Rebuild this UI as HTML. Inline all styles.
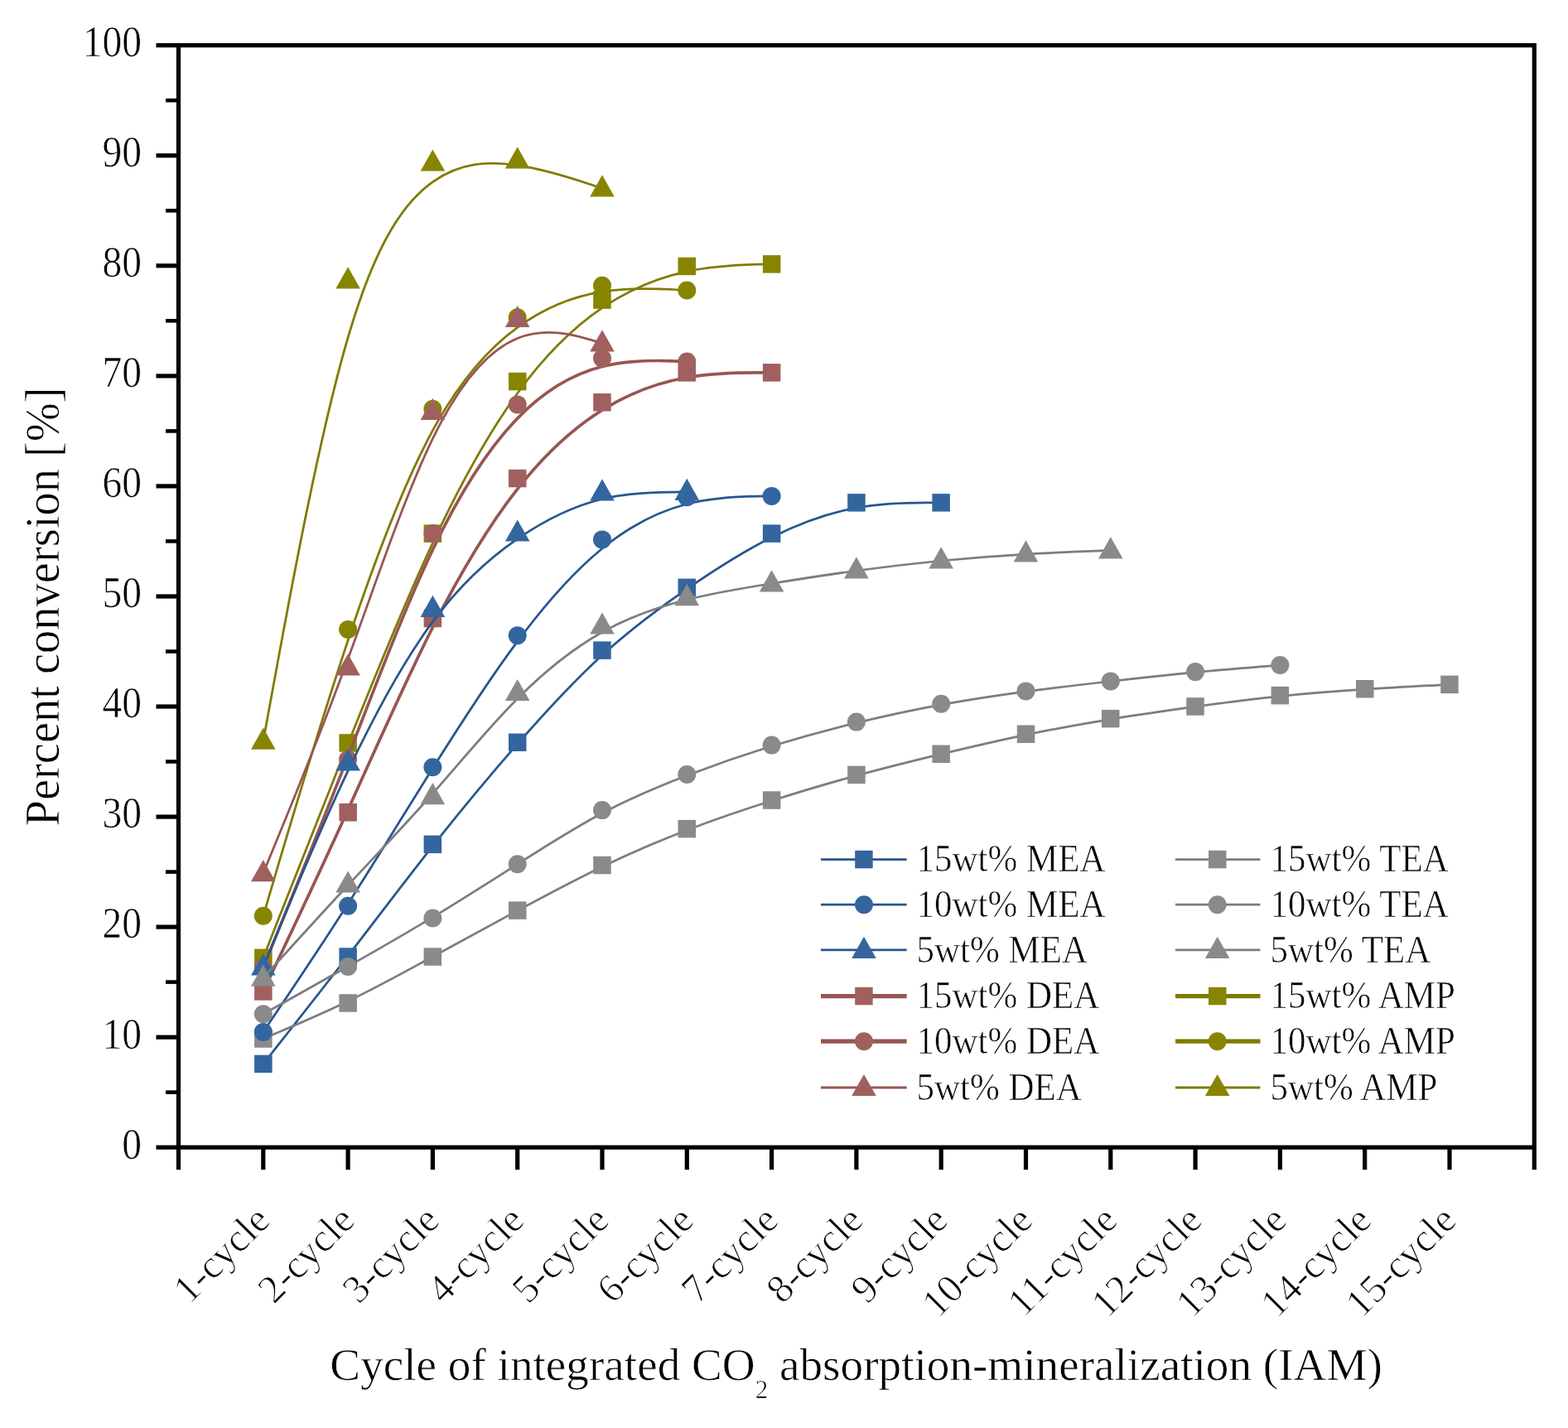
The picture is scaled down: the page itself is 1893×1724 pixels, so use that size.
<!DOCTYPE html>
<html><head><meta charset="utf-8"><title>Percent conversion vs IAM cycle</title><style>
html,body{margin:0;padding:0;background:#fff;}
svg{display:block;}
text{font-family:"Liberation Serif","Times New Roman",serif;fill:#000;stroke:#fff;stroke-width:0.6px;}
</style></head><body>
<svg width="1893" height="1724" viewBox="0 0 1893 1724">
<rect width="1893" height="1724" fill="#fff"/>
<g id="series">
<path d="M317.8,1284.5 C317.8,1284.5 317.8,1284.5 334.8,1262.9 C351.9,1241.3 386.0,1198.2 420.1,1154.0 C454.2,1109.8 488.3,1064.5 522.4,1021.4 C556.5,978.3 590.6,937.3 624.7,898.2 C658.8,859.2 692.9,822.2 727.0,791.0 C761.1,759.9 795.2,734.6 829.3,711.1 C863.4,687.6 897.5,665.8 931.6,648.8 C965.7,631.7 999.8,619.3 1033.9,613.1 C1068.0,606.9 1102.1,606.9 1119.1,606.9 C1136.2,606.9 1136.2,606.9 1136.2,606.9" fill="none" stroke="#27568f" stroke-width="2.75"/>
<rect x="307.1" y="1273.7" width="21.5" height="21.5" fill="#33659f"/>
<rect x="409.4" y="1144.3" width="21.5" height="21.5" fill="#33659f"/>
<rect x="511.6" y="1008.6" width="21.5" height="21.5" fill="#33659f"/>
<rect x="614.0" y="885.5" width="21.5" height="21.5" fill="#33659f"/>
<rect x="716.2" y="774.4" width="21.5" height="21.5" fill="#33659f"/>
<rect x="818.5" y="698.6" width="21.5" height="21.5" fill="#33659f"/>
<rect x="920.9" y="633.4" width="21.5" height="21.5" fill="#33659f"/>
<rect x="1023.2" y="596.1" width="21.5" height="21.5" fill="#33659f"/>
<rect x="1125.4" y="596.1" width="21.5" height="21.5" fill="#33659f"/>
<path d="M317.8,1196.9 C317.8,1196.9 317.8,1196.9 334.8,1160.9 C351.9,1124.9 386.0,1052.8 420.1,977.7 C454.2,902.7 488.3,824.6 522.4,757.4 C556.5,690.2 590.6,633.9 624.7,590.4 C658.8,547.0 692.9,516.4 727.0,495.1 C761.1,473.8 795.2,461.8 829.3,455.8 C863.4,449.9 897.5,449.9 914.6,449.9 C931.6,449.9 931.6,449.9 931.6,449.9" fill="none" stroke="#985552" stroke-width="3.7"/>
<rect x="307.1" y="1186.2" width="21.5" height="21.5" fill="#a0605f"/>
<rect x="409.4" y="970.0" width="21.5" height="21.5" fill="#a0605f"/>
<rect x="511.6" y="735.8" width="21.5" height="21.5" fill="#a0605f"/>
<rect x="614.0" y="566.8" width="21.5" height="21.5" fill="#a0605f"/>
<rect x="716.2" y="475.0" width="21.5" height="21.5" fill="#a0605f"/>
<rect x="818.5" y="439.1" width="21.5" height="21.5" fill="#a0605f"/>
<rect x="920.9" y="439.1" width="21.5" height="21.5" fill="#a0605f"/>
<path d="M317.8,1254.0 C317.8,1254.0 317.8,1254.0 334.8,1246.8 C351.9,1239.6 386.0,1225.3 420.1,1208.8 C454.2,1192.3 488.3,1173.7 522.4,1155.0 C556.5,1136.4 590.6,1117.8 624.7,1099.4 C658.8,1081.0 692.9,1062.8 727.0,1046.4 C761.1,1030.0 795.2,1015.3 829.3,1002.2 C863.4,989.2 897.5,977.6 931.6,966.8 C965.7,955.9 999.8,945.7 1033.9,936.4 C1068.0,927.1 1102.1,918.6 1136.2,910.4 C1170.3,902.2 1204.4,894.2 1238.5,887.1 C1272.6,880.1 1306.7,873.8 1340.8,868.3 C1374.9,862.8 1409.0,857.9 1443.1,853.2 C1477.2,848.6 1511.3,844.1 1545.4,840.6 C1579.5,837.0 1613.6,834.4 1647.7,832.2 C1681.8,829.9 1715.9,828.2 1733.0,827.3 C1750.0,826.4 1750.0,826.4 1750.0,826.4" fill="none" stroke="#7c7c82" stroke-width="2.75"/>
<rect x="307.1" y="1243.3" width="21.5" height="21.5" fill="#8a8a8a"/>
<rect x="409.4" y="1200.2" width="21.5" height="21.5" fill="#8a8a8a"/>
<rect x="511.6" y="1144.3" width="21.5" height="21.5" fill="#8a8a8a"/>
<rect x="614.0" y="1088.4" width="21.5" height="21.5" fill="#8a8a8a"/>
<rect x="716.2" y="1033.8" width="21.5" height="21.5" fill="#8a8a8a"/>
<rect x="818.5" y="989.9" width="21.5" height="21.5" fill="#8a8a8a"/>
<rect x="920.9" y="955.3" width="21.5" height="21.5" fill="#8a8a8a"/>
<rect x="1023.2" y="924.7" width="21.5" height="21.5" fill="#8a8a8a"/>
<rect x="1125.4" y="899.5" width="21.5" height="21.5" fill="#8a8a8a"/>
<rect x="1227.8" y="875.5" width="21.5" height="21.5" fill="#8a8a8a"/>
<rect x="1330.0" y="856.9" width="21.5" height="21.5" fill="#8a8a8a"/>
<rect x="1432.3" y="842.2" width="21.5" height="21.5" fill="#8a8a8a"/>
<rect x="1534.6" y="828.9" width="21.5" height="21.5" fill="#8a8a8a"/>
<rect x="1637.0" y="821.0" width="21.5" height="21.5" fill="#8a8a8a"/>
<rect x="1739.2" y="815.6" width="21.5" height="21.5" fill="#8a8a8a"/>
<path d="M317.8,1156.4 C317.8,1156.4 317.8,1156.4 334.8,1113.1 C351.9,1069.9 386.0,983.4 420.1,898.0 C454.2,812.6 488.3,728.4 522.4,655.6 C556.5,582.9 590.6,521.7 624.7,474.7 C658.8,427.7 692.9,394.9 727.0,371.7 C761.1,348.5 795.2,335.0 829.3,327.8 C863.4,320.6 897.5,319.7 914.6,319.2 C931.6,318.8 931.6,318.8 931.6,318.8" fill="none" stroke="#7f7b00" stroke-width="2.75"/>
<rect x="307.1" y="1145.6" width="21.5" height="21.5" fill="#878500"/>
<rect x="409.4" y="886.2" width="21.5" height="21.5" fill="#878500"/>
<rect x="511.6" y="633.4" width="21.5" height="21.5" fill="#878500"/>
<rect x="614.0" y="449.8" width="21.5" height="21.5" fill="#878500"/>
<rect x="716.2" y="351.3" width="21.5" height="21.5" fill="#878500"/>
<rect x="818.5" y="310.7" width="21.5" height="21.5" fill="#878500"/>
<rect x="920.9" y="308.1" width="21.5" height="21.5" fill="#878500"/>
<path d="M317.8,1245.9 C317.8,1245.9 317.8,1245.9 334.8,1220.6 C351.9,1195.2 386.0,1144.5 420.1,1091.2 C454.2,1037.9 488.3,982.1 522.4,927.6 C556.5,873.2 590.6,820.2 624.7,774.4 C658.8,728.6 692.9,690.0 727.0,662.2 C761.1,634.4 795.2,617.3 829.3,608.5 C863.4,599.8 897.5,599.3 914.6,599.1 C931.6,598.9 931.6,598.9 931.6,598.9" fill="none" stroke="#27568f" stroke-width="2.75"/>
<circle cx="317.8" cy="1245.9" r="11.0" fill="#33659f"/>
<circle cx="420.1" cy="1093.8" r="11.0" fill="#33659f"/>
<circle cx="522.4" cy="926.2" r="11.0" fill="#33659f"/>
<circle cx="624.7" cy="767.2" r="11.0" fill="#33659f"/>
<circle cx="727.0" cy="651.4" r="11.0" fill="#33659f"/>
<circle cx="829.3" cy="600.2" r="11.0" fill="#33659f"/>
<circle cx="931.6" cy="598.9" r="11.0" fill="#33659f"/>
<path d="M317.8,1168.3 C317.8,1168.3 317.8,1168.3 334.8,1126.4 C351.9,1084.5 386.0,1000.7 420.1,913.3 C454.2,825.9 488.3,735.0 522.4,663.6 C556.5,592.2 590.6,540.3 624.7,505.1 C658.8,469.8 692.9,451.2 727.0,442.5 C761.1,433.9 795.2,435.2 812.2,435.9 C829.3,436.6 829.3,436.6 829.3,436.6" fill="none" stroke="#985552" stroke-width="3.7"/>
<circle cx="317.8" cy="1168.3" r="11.0" fill="#a0605f"/>
<circle cx="420.1" cy="916.9" r="11.0" fill="#a0605f"/>
<circle cx="522.4" cy="644.1" r="11.0" fill="#a0605f"/>
<circle cx="624.7" cy="488.4" r="11.0" fill="#a0605f"/>
<circle cx="727.0" cy="432.6" r="11.0" fill="#a0605f"/>
<circle cx="829.3" cy="436.6" r="11.0" fill="#a0605f"/>
<path d="M317.8,1224.2 C317.8,1224.2 317.8,1224.2 334.8,1214.7 C351.9,1205.1 386.0,1186.1 420.1,1166.8 C454.2,1147.5 488.3,1128.0 522.4,1107.3 C556.5,1086.7 590.6,1065.0 624.7,1043.3 C658.8,1021.5 692.9,999.8 727.0,981.7 C761.1,963.7 795.2,949.3 829.3,936.2 C863.4,923.2 897.5,911.4 931.6,900.8 C965.7,890.3 999.8,880.9 1033.9,872.6 C1068.0,864.3 1102.1,857.0 1136.2,850.8 C1170.3,844.6 1204.4,839.5 1238.5,834.9 C1272.6,830.4 1306.7,826.4 1340.8,822.5 C1374.9,818.6 1409.0,814.9 1443.1,811.6 C1477.2,808.4 1511.3,805.7 1528.3,804.3 C1545.4,803.0 1545.4,803.0 1545.4,803.0" fill="none" stroke="#7c7c82" stroke-width="2.75"/>
<circle cx="317.8" cy="1224.2" r="11.0" fill="#8a8a8a"/>
<circle cx="420.1" cy="1167.0" r="11.0" fill="#8a8a8a"/>
<circle cx="522.4" cy="1108.5" r="11.0" fill="#8a8a8a"/>
<circle cx="624.7" cy="1043.3" r="11.0" fill="#8a8a8a"/>
<circle cx="727.0" cy="978.1" r="11.0" fill="#8a8a8a"/>
<circle cx="829.3" cy="935.0" r="11.0" fill="#8a8a8a"/>
<circle cx="931.6" cy="899.6" r="11.0" fill="#8a8a8a"/>
<circle cx="1033.9" cy="871.6" r="11.0" fill="#8a8a8a"/>
<circle cx="1136.2" cy="849.7" r="11.0" fill="#8a8a8a"/>
<circle cx="1238.5" cy="834.4" r="11.0" fill="#8a8a8a"/>
<circle cx="1340.8" cy="822.4" r="11.0" fill="#8a8a8a"/>
<circle cx="1443.1" cy="811.1" r="11.0" fill="#8a8a8a"/>
<circle cx="1545.4" cy="803.0" r="11.0" fill="#8a8a8a"/>
<path d="M317.8,1105.8 C317.8,1105.8 317.8,1105.8 334.8,1048.1 C351.9,990.5 386.0,875.2 420.1,773.2 C454.2,671.2 488.3,582.5 522.4,519.7 C556.5,457.0 590.6,420.1 624.7,395.3 C658.8,370.5 692.9,357.6 727.0,352.1 C761.1,346.7 795.2,348.6 812.2,349.5 C829.3,350.5 829.3,350.5 829.3,350.5" fill="none" stroke="#7f7b00" stroke-width="2.75"/>
<circle cx="317.8" cy="1105.8" r="11.0" fill="#878500"/>
<circle cx="420.1" cy="759.9" r="11.0" fill="#878500"/>
<circle cx="522.4" cy="493.8" r="11.0" fill="#878500"/>
<circle cx="624.7" cy="383.3" r="11.0" fill="#878500"/>
<circle cx="727.0" cy="344.7" r="11.0" fill="#878500"/>
<circle cx="829.3" cy="350.5" r="11.0" fill="#878500"/>
<path d="M317.8,1167.3 C317.8,1167.3 317.8,1167.3 334.8,1126.2 C351.9,1085.1 386.0,1002.8 420.1,930.7 C454.2,858.7 488.3,796.8 522.4,750.6 C556.5,704.5 590.6,674.0 624.7,650.6 C658.8,627.2 692.9,610.8 727.0,602.5 C761.1,594.2 795.2,594.1 812.2,594.0 C829.3,593.9 829.3,593.9 829.3,593.9" fill="none" stroke="#27568f" stroke-width="2.75"/>
<polygon points="317.8,1151.2 332.6,1177.4 303.0,1177.4" fill="#33659f"/>
<polygon points="420.1,904.4 434.9,930.6 405.3,930.6" fill="#33659f"/>
<polygon points="522.4,718.8 537.2,745.0 507.6,745.0" fill="#33659f"/>
<polygon points="624.7,627.4 639.5,653.6 609.9,653.6" fill="#33659f"/>
<polygon points="727.0,578.3 741.8,604.5 712.2,604.5" fill="#33659f"/>
<polygon points="829.3,577.8 844.1,604.0 814.5,604.0" fill="#33659f"/>
<path d="M317.8,1054.2 C317.8,1054.2 317.8,1054.2 334.8,1012.8 C351.9,971.3 386.0,888.4 420.1,795.5 C454.2,702.5 488.3,599.7 522.4,529.6 C556.5,459.5 590.6,422.3 624.7,408.5 C658.8,394.8 692.9,404.5 709.9,409.4 C727.0,414.3 727.0,414.3 727.0,414.3" fill="none" stroke="#985552" stroke-width="2.75"/>
<polygon points="317.8,1038.1 332.6,1064.3 303.0,1064.3" fill="#a0605f"/>
<polygon points="420.1,789.3 434.9,815.5 405.3,815.5" fill="#a0605f"/>
<polygon points="522.4,480.7 537.2,506.9 507.6,506.9" fill="#a0605f"/>
<polygon points="624.7,368.9 639.5,395.1 609.9,395.1" fill="#a0605f"/>
<polygon points="727.0,398.2 741.8,424.4 712.2,424.4" fill="#a0605f"/>
<path d="M317.8,1180.6 C317.8,1180.6 317.8,1180.6 334.8,1161.8 C351.9,1142.9 386.0,1105.2 420.1,1068.7 C454.2,1032.1 488.3,996.6 522.4,958.0 C556.5,919.4 590.6,877.7 624.7,843.5 C658.8,809.2 692.9,782.4 727.0,763.2 C761.1,744.1 795.2,732.6 829.3,724.0 C863.4,715.5 897.5,709.9 931.6,704.5 C965.7,699.0 999.8,693.7 1033.9,689.0 C1068.0,684.4 1102.1,680.4 1136.2,677.0 C1170.3,673.7 1204.4,671.1 1238.5,669.1 C1272.6,667.1 1306.7,665.7 1323.8,665.1 C1340.8,664.4 1340.8,664.4 1340.8,664.4" fill="none" stroke="#7c7c82" stroke-width="2.75"/>
<polygon points="317.8,1164.5 332.6,1190.7 303.0,1190.7" fill="#8a8a8a"/>
<polygon points="420.1,1051.4 434.9,1077.6 405.3,1077.6" fill="#8a8a8a"/>
<polygon points="522.4,945.0 537.2,971.2 507.6,971.2" fill="#8a8a8a"/>
<polygon points="624.7,819.9 639.5,846.1 609.9,846.1" fill="#8a8a8a"/>
<polygon points="727.0,739.4 741.8,765.6 712.2,765.6" fill="#8a8a8a"/>
<polygon points="829.3,705.0 844.1,731.2 814.5,731.2" fill="#8a8a8a"/>
<polygon points="931.6,688.2 946.4,714.4 916.8,714.4" fill="#8a8a8a"/>
<polygon points="1033.9,672.3 1048.7,698.5 1019.1,698.5" fill="#8a8a8a"/>
<polygon points="1136.2,660.3 1151.0,686.5 1121.4,686.5" fill="#8a8a8a"/>
<polygon points="1238.5,652.3 1253.3,678.5 1223.7,678.5" fill="#8a8a8a"/>
<polygon points="1340.8,648.3 1355.6,674.5 1326.0,674.5" fill="#8a8a8a"/>
<path d="M317.8,894.6 C317.8,894.6 317.8,894.6 334.8,801.9 C351.9,709.2 386.0,523.8 420.1,407.5 C454.2,291.1 488.3,243.8 522.4,219.6 C556.5,195.5 590.6,194.4 624.7,199.6 C658.8,204.7 692.9,216.0 709.9,221.7 C727.0,227.3 727.0,227.3 727.0,227.3" fill="none" stroke="#7f7b00" stroke-width="2.75"/>
<polygon points="317.8,878.5 332.6,904.7 303.0,904.7" fill="#878500"/>
<polygon points="420.1,322.3 434.9,348.5 405.3,348.5" fill="#878500"/>
<polygon points="522.4,180.4 537.2,206.6 507.6,206.6" fill="#878500"/>
<polygon points="624.7,177.3 639.5,203.5 609.9,203.5" fill="#878500"/>
<polygon points="727.0,211.2 741.8,237.4 712.2,237.4" fill="#878500"/>
</g>
<g id="axes">
<rect x="215.5" y="54.7" width="1636.8" height="1330.5" fill="none" stroke="#000" stroke-width="5.2"/>
<line x1="188.5" y1="1385.2" x2="215.5" y2="1385.2" stroke="#000" stroke-width="5.2"/>
<line x1="188.5" y1="1252.2" x2="215.5" y2="1252.2" stroke="#000" stroke-width="5.2"/>
<line x1="188.5" y1="1119.1" x2="215.5" y2="1119.1" stroke="#000" stroke-width="5.2"/>
<line x1="188.5" y1="986.1" x2="215.5" y2="986.1" stroke="#000" stroke-width="5.2"/>
<line x1="188.5" y1="853.0" x2="215.5" y2="853.0" stroke="#000" stroke-width="5.2"/>
<line x1="188.5" y1="720.0" x2="215.5" y2="720.0" stroke="#000" stroke-width="5.2"/>
<line x1="188.5" y1="586.9" x2="215.5" y2="586.9" stroke="#000" stroke-width="5.2"/>
<line x1="188.5" y1="453.9" x2="215.5" y2="453.9" stroke="#000" stroke-width="5.2"/>
<line x1="188.5" y1="320.8" x2="215.5" y2="320.8" stroke="#000" stroke-width="5.2"/>
<line x1="188.5" y1="187.8" x2="215.5" y2="187.8" stroke="#000" stroke-width="5.2"/>
<line x1="188.5" y1="54.7" x2="215.5" y2="54.7" stroke="#000" stroke-width="5.2"/>
<line x1="200.0" y1="1318.7" x2="215.5" y2="1318.7" stroke="#000" stroke-width="4.6"/>
<line x1="200.0" y1="1185.6" x2="215.5" y2="1185.6" stroke="#000" stroke-width="4.6"/>
<line x1="200.0" y1="1052.6" x2="215.5" y2="1052.6" stroke="#000" stroke-width="4.6"/>
<line x1="200.0" y1="919.5" x2="215.5" y2="919.5" stroke="#000" stroke-width="4.6"/>
<line x1="200.0" y1="786.5" x2="215.5" y2="786.5" stroke="#000" stroke-width="4.6"/>
<line x1="200.0" y1="653.4" x2="215.5" y2="653.4" stroke="#000" stroke-width="4.6"/>
<line x1="200.0" y1="520.4" x2="215.5" y2="520.4" stroke="#000" stroke-width="4.6"/>
<line x1="200.0" y1="387.3" x2="215.5" y2="387.3" stroke="#000" stroke-width="4.6"/>
<line x1="200.0" y1="254.3" x2="215.5" y2="254.3" stroke="#000" stroke-width="4.6"/>
<line x1="200.0" y1="121.2" x2="215.5" y2="121.2" stroke="#000" stroke-width="4.6"/>
<line x1="215.5" y1="1385.2" x2="215.5" y2="1412.2" stroke="#000" stroke-width="5.2"/>
<line x1="317.8" y1="1385.2" x2="317.8" y2="1412.2" stroke="#000" stroke-width="5.2"/>
<line x1="420.1" y1="1385.2" x2="420.1" y2="1412.2" stroke="#000" stroke-width="5.2"/>
<line x1="522.4" y1="1385.2" x2="522.4" y2="1412.2" stroke="#000" stroke-width="5.2"/>
<line x1="624.7" y1="1385.2" x2="624.7" y2="1412.2" stroke="#000" stroke-width="5.2"/>
<line x1="727.0" y1="1385.2" x2="727.0" y2="1412.2" stroke="#000" stroke-width="5.2"/>
<line x1="829.3" y1="1385.2" x2="829.3" y2="1412.2" stroke="#000" stroke-width="5.2"/>
<line x1="931.6" y1="1385.2" x2="931.6" y2="1412.2" stroke="#000" stroke-width="5.2"/>
<line x1="1033.9" y1="1385.2" x2="1033.9" y2="1412.2" stroke="#000" stroke-width="5.2"/>
<line x1="1136.2" y1="1385.2" x2="1136.2" y2="1412.2" stroke="#000" stroke-width="5.2"/>
<line x1="1238.5" y1="1385.2" x2="1238.5" y2="1412.2" stroke="#000" stroke-width="5.2"/>
<line x1="1340.8" y1="1385.2" x2="1340.8" y2="1412.2" stroke="#000" stroke-width="5.2"/>
<line x1="1443.1" y1="1385.2" x2="1443.1" y2="1412.2" stroke="#000" stroke-width="5.2"/>
<line x1="1545.4" y1="1385.2" x2="1545.4" y2="1412.2" stroke="#000" stroke-width="5.2"/>
<line x1="1647.7" y1="1385.2" x2="1647.7" y2="1412.2" stroke="#000" stroke-width="5.2"/>
<line x1="1750.0" y1="1385.2" x2="1750.0" y2="1412.2" stroke="#000" stroke-width="5.2"/>
<line x1="1852.3" y1="1385.2" x2="1852.3" y2="1412.2" stroke="#000" stroke-width="5.2"/>
<text transform="translate(171 1398.5) scale(0.97 1.07)" text-anchor="end" font-size="49">0</text>
<text transform="translate(171 1265.5) scale(0.97 1.07)" text-anchor="end" font-size="49">10</text>
<text transform="translate(171 1132.4) scale(0.97 1.07)" text-anchor="end" font-size="49">20</text>
<text transform="translate(171 999.4) scale(0.97 1.07)" text-anchor="end" font-size="49">30</text>
<text transform="translate(171 866.3) scale(0.97 1.07)" text-anchor="end" font-size="49">40</text>
<text transform="translate(171 733.2) scale(0.97 1.07)" text-anchor="end" font-size="49">50</text>
<text transform="translate(171 600.2) scale(0.97 1.07)" text-anchor="end" font-size="49">60</text>
<text transform="translate(171 467.2) scale(0.97 1.07)" text-anchor="end" font-size="49">70</text>
<text transform="translate(171 334.1) scale(0.97 1.07)" text-anchor="end" font-size="49">80</text>
<text transform="translate(171 201.1) scale(0.97 1.07)" text-anchor="end" font-size="49">90</text>
<text transform="translate(171 68.0) scale(0.97 1.07)" text-anchor="end" font-size="49">100</text>
<text x="328.3" y="1475.6" text-anchor="end" font-size="48" style="stroke-width:0.9px" transform="rotate(-45 328.3 1475.6)">1-cycle</text>
<text x="430.6" y="1475.6" text-anchor="end" font-size="48" style="stroke-width:0.9px" transform="rotate(-45 430.6 1475.6)">2-cycle</text>
<text x="532.9" y="1475.6" text-anchor="end" font-size="48" style="stroke-width:0.9px" transform="rotate(-45 532.9 1475.6)">3-cycle</text>
<text x="635.2" y="1475.6" text-anchor="end" font-size="48" style="stroke-width:0.9px" transform="rotate(-45 635.2 1475.6)">4-cycle</text>
<text x="737.5" y="1475.6" text-anchor="end" font-size="48" style="stroke-width:0.9px" transform="rotate(-45 737.5 1475.6)">5-cycle</text>
<text x="839.8" y="1475.6" text-anchor="end" font-size="48" style="stroke-width:0.9px" transform="rotate(-45 839.8 1475.6)">6-cycle</text>
<text x="942.1" y="1475.6" text-anchor="end" font-size="48" style="stroke-width:0.9px" transform="rotate(-45 942.1 1475.6)">7-cycle</text>
<text x="1044.4" y="1475.6" text-anchor="end" font-size="48" style="stroke-width:0.9px" transform="rotate(-45 1044.4 1475.6)">8-cycle</text>
<text x="1146.7" y="1475.6" text-anchor="end" font-size="48" style="stroke-width:0.9px" transform="rotate(-45 1146.7 1475.6)">9-cycle</text>
<text x="1249.0" y="1475.6" text-anchor="end" font-size="48" style="stroke-width:0.9px" transform="rotate(-45 1249.0 1475.6)">10-cycle</text>
<text x="1351.3" y="1475.6" text-anchor="end" font-size="48" style="stroke-width:0.9px" transform="rotate(-45 1351.3 1475.6)">11-cycle</text>
<text x="1453.6" y="1475.6" text-anchor="end" font-size="48" style="stroke-width:0.9px" transform="rotate(-45 1453.6 1475.6)">12-cycle</text>
<text x="1555.9" y="1475.6" text-anchor="end" font-size="48" style="stroke-width:0.9px" transform="rotate(-45 1555.9 1475.6)">13-cycle</text>
<text x="1658.2" y="1475.6" text-anchor="end" font-size="48" style="stroke-width:0.9px" transform="rotate(-45 1658.2 1475.6)">14-cycle</text>
<text x="1760.5" y="1475.6" text-anchor="end" font-size="48" style="stroke-width:0.9px" transform="rotate(-45 1760.5 1475.6)">15-cycle</text>
<text x="0" y="0" transform="translate(1033.6 1665.5) scale(1.0036 1)" text-anchor="middle" font-size="55">Cycle of integrated CO<tspan font-size="31" dy="22">2</tspan><tspan dy="-22"> absorption-mineralization (IAM)</tspan></text>
<text x="0" y="0" text-anchor="middle" font-size="56.5" transform="translate(71 732.4) rotate(-90) scale(1 1.04)">Percent conversion [%]</text>
</g>
<g id="legend">
<line x1="991" y1="1037.6" x2="1094.7" y2="1037.6" stroke="#27568f" stroke-width="2.8"/>
<rect x="1032.2" y="1026.8" width="21.5" height="21.5" fill="#33659f"/>
<text transform="translate(1106.5 1052.4) scale(1 1.06)" font-size="43">15wt% MEA</text>
<line x1="991" y1="1092.2" x2="1094.7" y2="1092.2" stroke="#27568f" stroke-width="2.8"/>
<circle cx="1043.0" cy="1092.2" r="11.0" fill="#33659f"/>
<text transform="translate(1106.5 1107.0) scale(1 1.06)" font-size="43">10wt% MEA</text>
<line x1="991" y1="1146.8" x2="1094.7" y2="1146.8" stroke="#27568f" stroke-width="2.8"/>
<polygon points="1043.0,1130.7 1057.8,1156.9 1028.2,1156.9" fill="#33659f"/>
<text transform="translate(1106.5 1161.6) scale(1 1.06)" font-size="43">5wt% MEA</text>
<line x1="991" y1="1202.6" x2="1094.7" y2="1202.6" stroke="#985552" stroke-width="5.2"/>
<rect x="1032.2" y="1191.8" width="21.5" height="21.5" fill="#a0605f"/>
<text transform="translate(1106.5 1217.4) scale(1 1.06)" font-size="43">15wt% DEA</text>
<line x1="991" y1="1257.2" x2="1094.7" y2="1257.2" stroke="#985552" stroke-width="5.2"/>
<circle cx="1043.0" cy="1257.2" r="11.0" fill="#a0605f"/>
<text transform="translate(1106.5 1272.0) scale(1 1.06)" font-size="43">10wt% DEA</text>
<line x1="991" y1="1313.0" x2="1094.7" y2="1313.0" stroke="#985552" stroke-width="2.8"/>
<polygon points="1043.0,1296.9 1057.8,1323.1 1028.2,1323.1" fill="#a0605f"/>
<text transform="translate(1106.5 1327.8) scale(1 1.06)" font-size="43">5wt% DEA</text>
<line x1="1419" y1="1037.6" x2="1521.5" y2="1037.6" stroke="#7c7c82" stroke-width="2.8"/>
<rect x="1459.0" y="1026.8" width="21.5" height="21.5" fill="#8a8a8a"/>
<text transform="translate(1533.5 1052.4) scale(1 1.06)" font-size="43">15wt% TEA</text>
<line x1="1419" y1="1092.2" x2="1521.5" y2="1092.2" stroke="#7c7c82" stroke-width="2.8"/>
<circle cx="1469.7" cy="1092.2" r="11.0" fill="#8a8a8a"/>
<text transform="translate(1533.5 1107.0) scale(1 1.06)" font-size="43">10wt% TEA</text>
<line x1="1419" y1="1146.8" x2="1521.5" y2="1146.8" stroke="#7c7c82" stroke-width="2.8"/>
<polygon points="1469.7,1130.7 1484.5,1156.9 1454.9,1156.9" fill="#8a8a8a"/>
<text transform="translate(1533.5 1161.6) scale(1 1.06)" font-size="43">5wt% TEA</text>
<line x1="1419" y1="1202.6" x2="1521.5" y2="1202.6" stroke="#7f7b00" stroke-width="5.2"/>
<rect x="1459.0" y="1191.8" width="21.5" height="21.5" fill="#878500"/>
<text transform="translate(1533.5 1217.4) scale(1 1.06)" font-size="43">15wt% AMP</text>
<line x1="1419" y1="1257.2" x2="1521.5" y2="1257.2" stroke="#7f7b00" stroke-width="5.2"/>
<circle cx="1469.7" cy="1257.2" r="11.0" fill="#878500"/>
<text transform="translate(1533.5 1272.0) scale(1 1.06)" font-size="43">10wt% AMP</text>
<line x1="1419" y1="1313.0" x2="1521.5" y2="1313.0" stroke="#7f7b00" stroke-width="2.8"/>
<polygon points="1469.7,1296.9 1484.5,1323.1 1454.9,1323.1" fill="#878500"/>
<text transform="translate(1533.5 1327.8) scale(1 1.06)" font-size="43">5wt% AMP</text>
</g>
</svg>
</body></html>
